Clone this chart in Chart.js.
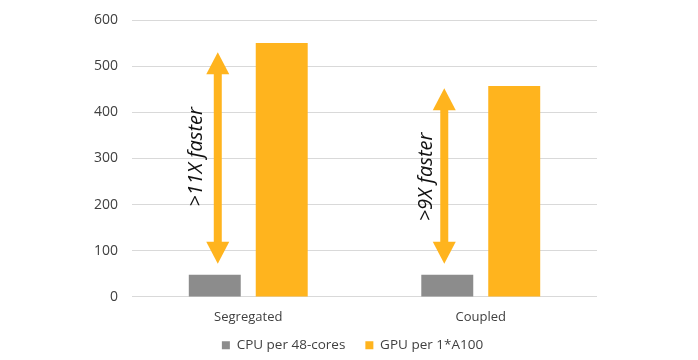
<!DOCTYPE html>
<html><head><meta charset="utf-8">
<script src="https://cdn.jsdelivr.net/npm/chart.js@4.4.0/dist/chart.umd.min.js"></script>
<style>html,body{margin:0;padding:0;background:#fff}#wrap{width:698px;height:360px}</style>
</head><body><div id="wrap"><canvas id="c"></canvas></div>
<script>
const categories = ["Segregated", "Coupled"];
const cpuValues = [48, 48];
const gpuValues = [550, 457];
const seriesNames = ["CPU per 48-cores", "GPU per 1*A100"];
const yTicks = [0, 100, 200, 300, 400, 500, 600];
const arrowLabels = [">11X faster", ">9X faster"];
const arrowFrom = [72, 72];
const arrowTo = [530, 452];

const unclipPlugin = {
  id: 'unclip',
  afterLayout(chart) {
    chart.scales.y.left = 0;
    chart.scales.x.bottom = chart.height;
  }
};

const arrowPlugin = {
  id: 'arrows',
  afterDatasetsDraw(chart) {
    const ctx = chart.ctx, y = chart.scales.y;
    const meta = chart.getDatasetMeta(0);
    ctx.save();
    ctx.fillStyle = '#FFB41E';
    arrowLabels.forEach((lab, i) => {
      const x = meta.data[i].x + (i === 0 ? 3 : -3);
      const yTop = y.getPixelForValue(arrowTo[i]);
      const yBot = y.getPixelForValue(arrowFrom[i]);
      const hw = 11.5, hh = 22, sw = 4;
      ctx.fillRect(x - sw, yTop + hh - 1, sw * 2, (yBot - hh) - (yTop + hh) + 2);
      ctx.beginPath();
      ctx.moveTo(x, yTop); ctx.lineTo(x + hw, yTop + hh); ctx.lineTo(x - hw, yTop + hh); ctx.closePath(); ctx.fill();
      ctx.beginPath();
      ctx.moveTo(x, yBot); ctx.lineTo(x + hw, yBot - hh); ctx.lineTo(x - hw, yBot - hh); ctx.closePath(); ctx.fill();
    });
    ctx.fillStyle = '#111';
    ctx.font = 'italic 20px "Open Sans"';
    ctx.textAlign = 'center'; ctx.textBaseline = 'middle';
    const centers = [157, 177];
    arrowLabels.forEach((lab, i) => {
      const x = meta.data[i].x + (i === 0 ? -18 : -21);
      ctx.save();
      ctx.translate(x, centers[i]);
      ctx.rotate(-Math.PI / 2);
      ctx.fillText(lab, 0, 0);
      ctx.restore();
    });
    ctx.restore();
  }
};

new Chart(document.getElementById('c'), {
  type: 'bar',
  data: {
    labels: categories,
    datasets: [
      { label: seriesNames[0], data: cpuValues, backgroundColor: '#8C8C8C', categoryPercentage: 0.576, barPercentage: 0.776 },
      { label: seriesNames[1], data: gpuValues, backgroundColor: '#FFB41E', categoryPercentage: 0.576, barPercentage: 0.776 }
    ]
  },
  options: {
    responsive: true, maintainAspectRatio: false, animation: false,
    layout: { padding: { left: 108, right: 101, top: 20, bottom: -2 } },
    plugins: {
      tooltip: { enabled: false },
      legend: {
        position: 'bottom',
        labels: { boxWidth: 8, boxHeight: 8, color: '#404040', font: { family: 'Open Sans', size: 13.5 }, padding: 20 }
      }
    },
    scales: {
      x: {
        grid: { display: false },
        border: { display: false },
        ticks: { color: '#404040', font: { family: 'Open Sans', size: 13 }, padding: 5 },
        afterFit(s) { s.height -= 12; }
      },
      y: {
        min: 0, max: 600,
        afterBuildTicks(s) { s.ticks = yTicks.map(v => ({ value: v })); },
        grid: { color: '#D9D9D9', lineWidth: 1, drawTicks: false },
        border: { display: false },
        ticks: { color: '#404040', font: { family: 'Open Sans', size: 14 }, padding: 14 },
        afterFit(s) { s.width = 24; s.paddingTop = 0; s.paddingBottom = 0; }
      }
    }
  },
  plugins: [unclipPlugin, arrowPlugin]
});
</script></body></html>
